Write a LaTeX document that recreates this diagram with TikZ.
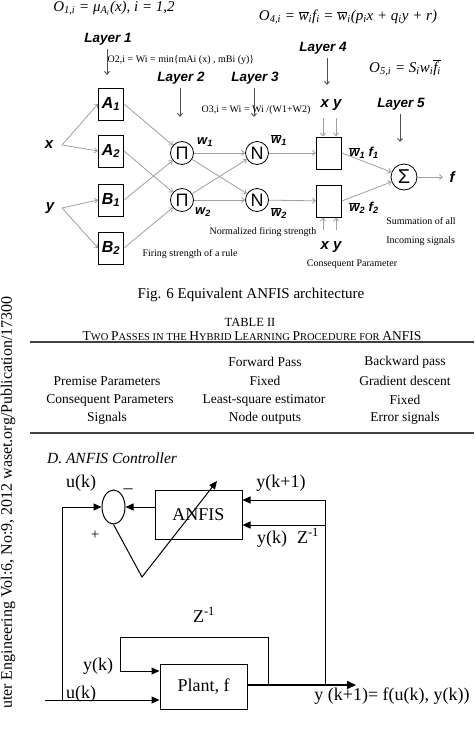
\RequirePackage{fix-cm}
\documentclass[tikz,border=0pt]{standalone}
\usepackage{fontspec}
\setmainfont{Liberation Serif}
\newfontfamily\arialf{Liberation Sans}
\usetikzlibrary{shapes.geometric, arrows.meta, positioning, calc}
\definecolor{netgray}{RGB}{160,160,160}
\definecolor{laygray}{RGB}{80,80,80}
\newcommand\fsz[1]{\fontsize{#1}{#1}\selectfont}
\newcommand\capw[1]{{\fsz{13.5}#1}}
\newcommand\ovl[1]{$\overline{\hbox{#1}}$}

\begin{document}
\begin{tikzpicture}[x=1pt, y=-1pt,
  formula/.style={font=\itshape\fsz{15}},
  laylbl/.style={font=\arialf\bfseries\itshape\fsz{13.5}},
  nodelbl/.style={font=\arialf\bfseries\itshape\fsz{15}},
  wlbl/.style={font=\arialf\bfseries\itshape\fsz{13}},
  note/.style={font=\fsz{10}},
  fbox/.style={draw, line width=1pt, minimum width=25pt, minimum height=32pt, inner sep=0pt, font=\arialf\bfseries\itshape\fsz{16}},
  fcirc/.style={draw, line width=0.8pt, circle, minimum size=23pt, inner sep=0pt, font=\arialf\fsz{18}},
  net/.style={netgray, line width=0.8pt, -{Straight Barb[length=3pt,width=5pt]}},
  layarr/.style={laygray, line width=0.9pt, -{Straight Barb[length=3pt,width=5pt]}},
  cell/.style={font=\fsz{13.5}},
  ctl/.style={font=\fsz{18}},
  cbox/.style={draw, line width=1pt, inner sep=0pt, font=\fsz{18}},
  carr/.style={line width=1pt, -{Triangle[length=8pt,width=7pt]}}]

\useasboundingbox (0,0) rectangle (474,731);
\fill[white] (0,0) rectangle (474,731);

\node[formula] (o1) at (114,8) {O\textsubscript{1,i} = μ\textsubscript{A\textsubscript{i}}(x), i = 1,2};
\node[formula] (o4) at (348,17) {O\textsubscript{4,i} = \ovl{w}\textsubscript{i}f\textsubscript{i} = \ovl{w}\textsubscript{i}(p\textsubscript{i}x + q\textsubscript{i}y + r)};
\node[formula] (o5) at (405,68) {O\textsubscript{5,i} = S\textsubscript{i}w\textsubscript{i}\ovl{f\textsubscript{i}}};

\node[laylbl] (L1) at (108,39) {Layer 1};
\node[laylbl] (L2) at (181,78) {Layer 2};
\node[laylbl] (L3) at (255,78) {Layer 3};
\node[laylbl] (L4) at (323,48) {Layer 4};
\node[laylbl] (L5) at (401,104) {Layer 5};
\coordinate (t1) at (107,75);
\coordinate (t2) at (180,117);
\coordinate (t3) at (254,117);
\coordinate (t4) at (327,85);
\coordinate (t5) at (400,142);
\draw[layarr] (L1.south -| t1) -- (t1);
\draw[layarr] (L2.south -| t2) -- (t2);
\draw[layarr] (L3.south -| t3) -- (t3);
\draw[layarr] (L4.south -| t4) -- (t4);
\draw[layarr] (L5.south -| t5) -- (t5);

\node[note] (o2) at (181,60) {O2,i = Wi = min\{mAi (x) , mBi (y)\}};
\node[note] (o3) at (256,110) {O3,i = Wi = Wi /(W1+W2)};

\node[nodelbl] (xin) at (49,145) {x};
\node[nodelbl] (yin) at (50,208) {y};
\coordinate (xs) at (62,145);
\coordinate (ys) at (62,208);

\node[fbox] (A1) at (111,104) {A\textsubscript{1}};
\node[fbox] (A2) at (111,151) {A\textsubscript{2}};
\node[fbox] (B1) at (111,200) {B\textsubscript{1}};
\node[fbox] (B2) at (111,248) {B\textsubscript{2}};
\node[fcirc] (P1) at (182,153) {Π};
\node[fcirc] (P2) at (182,200) {Π};
\node[fcirc] (N1) at (257,153) {N};
\node[fcirc] (N2) at (257,200) {N};
\node[fbox] (S1) at (329,153) {};
\node[fbox] (S2) at (329,201) {};
\node[fcirc, minimum size=26pt, font=\arialf\fsz{20}] (Sig) at (404,177) {Σ};
\node[nodelbl] (fout) at (452,177) {f};

\draw[net] (xs) -- (A1.west);
\draw[net] (xs) -- (A2.west);
\draw[net] (ys) -- (B1.west);
\draw[net] (ys) -- (B2.west);
\draw[net] (A1.east) -- (P1);
\draw[net] (B1.east) -- (P1);
\draw[net] (A2.east) -- (P2);
\draw[net] (B2.east) -- (P2);
\draw[net] (P1) -- (N1);
\draw[net] (P1) -- (N2);
\draw[net] (P2) -- (N1);
\draw[net] (P2) -- (N2);
\draw[net] (N1) -- (S1);
\draw[net] (N2) -- (S2);
\draw[net] (S1.east) -- (Sig);
\draw[net] (S2.east) -- (Sig);
\draw[net, shorten >=3pt] (Sig) -- (fout);

\node[wlbl] (w1) at (205,142) {w\textsubscript{1}};
\node[wlbl] (w2) at (203,212) {w\textsubscript{2}};
\node[wlbl] (nw1) at (279,140) {\ovl{w}\textsubscript{1}};
\node[wlbl] (nw2) at (279,213) {\ovl{w}\textsubscript{2}};
\node[wlbl] (wf1) at (364,153) {\ovl{w}\textsubscript{1} f\textsubscript{1}};
\node[wlbl] (wf2) at (364,208) {\ovl{w}\textsubscript{2} f\textsubscript{2}};

\node[nodelbl] (xyt) at (331,105) {x y};
\node[nodelbl] (xyb) at (331,247) {x y};
\coordinate (xt) at (323,118);
\coordinate (yt) at (336,118);
\coordinate (xb) at (323,230);
\coordinate (yb) at (336,230);
\draw[net] (xt) -- (xt |- S1.north);
\draw[net] (yt) -- (yt |- S1.north);
\draw[net] (xb) -- (xb |- S2.south);
\draw[net] (yb) -- (yb |- S2.south);

\node[note] (cnorm) at (263,232) {Normalized firing strength};
\node[note] (cfire) at (190,254) {Firing strength of a rule};
\node[note] (ccons) at (352,264) {Consequent Parameter};
\node[note, font=\fontsize{10}{19}\selectfont, align=left] (csum) at (421,232) {Summation of all\\Incoming signals};

\node[font=\fsz{15}] (cap) at (251,295) {Fig. 6 Equivalent ANFIS architecture};
\node[font=\fsz{12.5}] (tabno) at (250,322) {TABLE II};
\node[font=\fsz{10.5}] (tabt) at (252,336) {\capw{T}WO \capw{P}ASSES IN THE \capw{H}YBRID \capw{L}EARNING \capw{P}ROCEDURE FOR \capw{ANFIS}};
\draw[line width=2pt, black!75] (30,342) -- (474,342);
\draw[line width=2pt, black!75] (30,433) -- (474,433);

\node[cell] (h2) at (265,362) {Forward Pass};
\node[cell] (h3) at (405,362) {Backward pass};
\node[cell] (r1a) at (107,381) {Premise Parameters};
\node[cell] (r1b) at (265,381) {Fixed};
\node[cell] (r1c) at (405,381) {Gradient descent};
\node[cell] (r2a) at (110,400) {Consequent Parameters};
\node[cell] (r2b) at (264,400) {Least-square estimator};
\node[cell] (r2c) at (405,400) {Fixed};
\node[cell] (r3a) at (107,418) {Signals};
\node[cell] (r3b) at (265,418) {Node outputs};
\node[cell] (r3c) at (405,418) {Error signals};

\node[font=\itshape\fsz{15.5}] (ctlhead) at (112,458) {D. ANFIS Controller};

\node[rotate=90, anchor=east, inner sep=0pt, font=\fsz{16}] (margin) at (8,296) {uter Engineering Vol:6, No:9, 2012 waset.org/Publication/17300};

\node[ctl] (uk) at (81,483) {u(k)};
\node[draw, ellipse, line width=1pt, minimum width=23pt, minimum height=34pt, inner sep=0pt] (sum) at (113.5,507) {};
\node[ctl] (minus) at (128,491) {--};
\node[ctl, font=\fsz{15}] (plus) at (95,535) {+};
\node[cbox, minimum width=87pt, minimum height=49pt] (anfis) at (198.5,514.5) {ANFIS};
\node[cbox, minimum width=87pt, minimum height=45pt] (plant) at (203.5,686.5) {Plant, f};

\node[ctl] (yk1) at (281,483) {y(k+1)};
\node[ctl] (yk) at (272,539) {y(k)};
\node[ctl] (z1) at (308,536) {Z\textsuperscript{-1}};
\node[ctl] (z2) at (204,615) {Z\textsuperscript{-1}};
\node[ctl] (ykp) at (98,666) {y(k)};
\node[ctl] (ukp) at (81,694) {u(k)};
\node[ctl] (yout) at (392,696) {y (k+1)= f(u(k), y(k))};

\coordinate (ul) at (62,507);
\coordinate (ub) at (62,700);
\coordinate (uin) at (45,700);
\coordinate (vtx) at (142,577);
\coordinate (adapt) at (217,481);
\coordinate (rt) at (325,500);
\coordinate (rm) at (325,525);
\coordinate (rb) at (325,685);
\coordinate (out) at (356,685);
\coordinate (fj) at (268,685);
\coordinate (fjt) at (268,637);
\coordinate (fl) at (120,637);
\coordinate (fb) at (120,671);

\draw[carr] (sum -| anfis.west) -- (sum.east);
\draw[carr] (ub) -- (ul) -- (sum.west);
\draw[carr] (uin) -- (uin -| plant.west);
\draw[carr] (sum.south) -- (vtx) -- (adapt);
\draw[carr] (rb) -- (rt) -- (rt -| anfis.east);
\draw[carr] (rm) -- (rm -| anfis.east);
\draw[carr] (fj) -- (fjt) -- (fl) -- (fb) -- (fb -| plant.west);
\draw[line width=1.8pt, -{Triangle[length=9pt,width=8pt]}] (plant.east |- out) -- (out);
\end{tikzpicture}
\end{document}
